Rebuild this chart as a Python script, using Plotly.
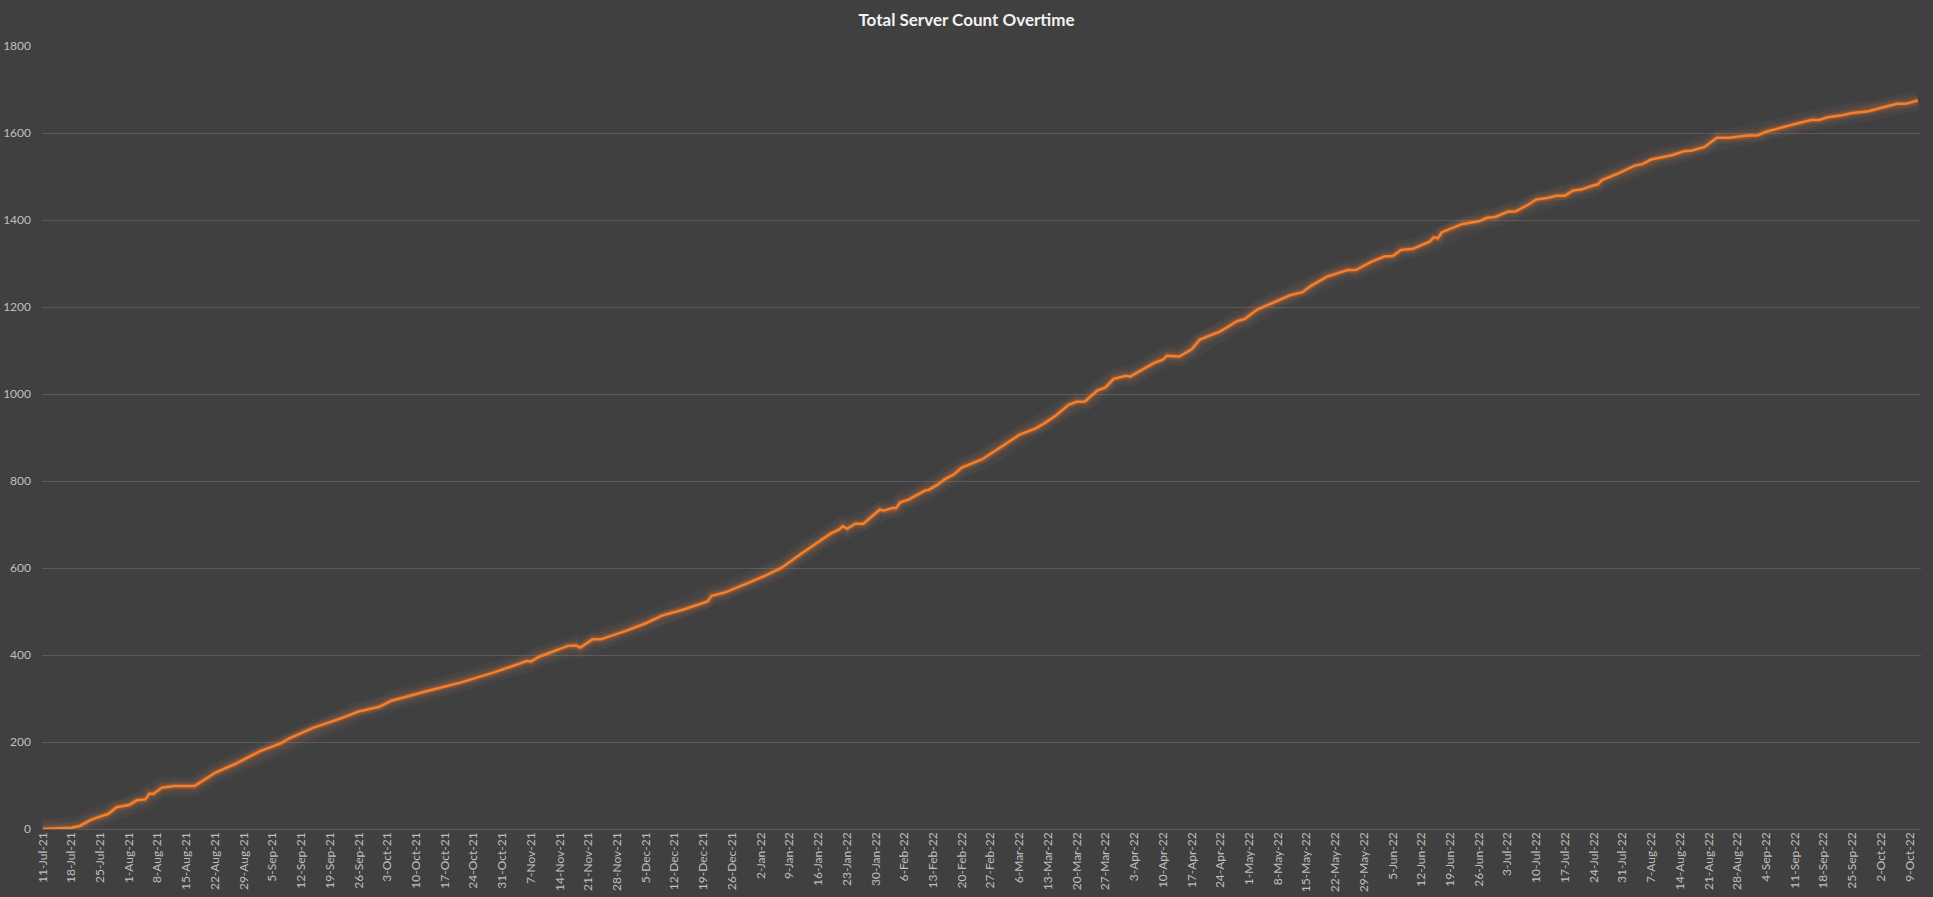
import plotly.graph_objects as go

# readings taken off the chart (date, total servers)
dates = [
    "2021-07-11", "2021-07-18", "2021-07-20", "2021-07-23", "2021-07-27", "2021-07-29",
    "2021-08-01", "2021-08-03", "2021-08-05", "2021-08-06", "2021-08-07", "2021-08-09",
    "2021-08-12", "2021-08-17", "2021-08-22", "2021-08-27", "2021-09-02", "2021-09-07",
    "2021-09-09", "2021-09-15", "2021-09-21", "2021-09-26", "2021-10-01", "2021-10-04",
    "2021-10-13", "2021-10-21", "2021-10-29", "2021-11-06", "2021-11-07", "2021-11-09",
    "2021-11-16", "2021-11-18", "2021-11-19", "2021-11-22", "2021-11-24", "2021-11-30",
    "2021-12-05", "2021-12-09", "2021-12-14", "2021-12-18", "2021-12-20", "2021-12-21",
    "2021-12-24", "2021-12-30", "2022-01-03", "2022-01-07", "2022-01-12", "2022-01-19",
    "2022-01-21", "2022-01-22", "2022-01-23", "2022-01-25", "2022-01-27", "2022-01-31",
    "2022-02-01", "2022-02-03", "2022-02-04", "2022-02-05", "2022-02-07", "2022-02-11",
    "2022-02-12", "2022-02-14", "2022-02-16", "2022-02-18", "2022-02-20", "2022-02-25",
    "2022-03-01", "2022-03-04", "2022-03-06", "2022-03-10", "2022-03-12", "2022-03-15",
    "2022-03-18", "2022-03-20", "2022-03-22", "2022-03-25", "2022-03-27", "2022-03-29",
    "2022-04-01", "2022-04-02", "2022-04-05", "2022-04-08", "2022-04-10", "2022-04-11",
    "2022-04-14", "2022-04-17", "2022-04-19", "2022-04-22", "2022-04-24", "2022-04-28",
    "2022-04-30", "2022-05-03", "2022-05-07", "2022-05-09", "2022-05-11", "2022-05-14",
    "2022-05-16", "2022-05-20", "2022-05-23", "2022-05-25", "2022-05-27", "2022-05-31",
    "2022-06-03", "2022-06-05", "2022-06-07", "2022-06-10", "2022-06-14", "2022-06-15",
    "2022-06-16", "2022-06-17", "2022-06-22", "2022-06-26", "2022-06-28", "2022-06-30",
    "2022-07-03", "2022-07-05", "2022-07-08", "2022-07-10", "2022-07-13", "2022-07-15",
    "2022-07-17", "2022-07-19", "2022-07-21", "2022-07-23", "2022-07-25", "2022-07-26",
    "2022-07-30", "2022-08-03", "2022-08-05", "2022-08-07", "2022-08-09", "2022-08-12",
    "2022-08-15", "2022-08-17", "2022-08-20", "2022-08-23", "2022-08-26", "2022-08-29",
    "2022-08-31", "2022-09-01", "2022-09-02", "2022-09-04", "2022-09-07", "2022-09-10",
    "2022-09-12", "2022-09-15", "2022-09-17", "2022-09-19", "2022-09-22", "2022-09-25",
    "2022-09-29", "2022-10-02", "2022-10-06", "2022-10-08", "2022-10-11",
]
servers = [
    0, 3, 7, 22, 35, 50,
    55, 66, 68, 81, 81, 95,
    99, 99, 129, 150, 179, 197,
    208, 233, 252, 270, 281, 295,
    318, 337, 360, 386, 385, 396,
    421, 422, 417, 436, 436, 455,
    473, 491, 504, 516, 523, 536,
    543, 566, 582, 600, 634, 679,
    688, 696, 690, 702, 702, 734,
    732, 738, 738, 751, 757, 778,
    780, 791, 805, 815, 831, 850,
    875, 893, 906, 921, 932, 951,
    975, 982, 983, 1008, 1015, 1035,
    1042, 1040, 1056, 1072, 1079, 1088,
    1086, 1103, 1125, 1137, 1144, 1167,
    1173, 1194, 1211, 1218, 1227, 1234,
    1248, 1270, 1280, 1285, 1285, 1305,
    1316, 1317, 1331, 1334, 1350, 1360,
    1358, 1372, 1391, 1397, 1405, 1407,
    1419, 1420, 1435, 1447, 1451, 1456,
    1456, 1468, 1470, 1477, 1482, 1492,
    1507, 1525, 1529, 1539, 1543, 1549,
    1558, 1560, 1568, 1589, 1589, 1592,
    1595, 1594, 1595, 1603, 1611, 1618,
    1623, 1630, 1630, 1636, 1640, 1646,
    1650, 1658, 1667, 1667, 1675,
]

ORANGE = "#F47F2C"
BG = "#404040"
GRID = "#5A5A5A"
LABEL = "#BFBFBF"

fig = go.Figure()

# soft glow under the line (orange fading to a faint mauve)
for w, a, c in [(20, 0.05, "#B08AA8"), (13, 0.08, ORANGE), (8, 0.12, ORANGE), (5, 0.2, ORANGE)]:
    fig.add_trace(go.Scatter(
        x=dates, y=servers, mode="lines",
        line=dict(color=c, width=w),
        opacity=a, hoverinfo="skip", showlegend=False,
    ))

fig.add_trace(go.Scatter(
    x=dates, y=servers, mode="lines",
    line=dict(color=ORANGE, width=2.5),
    name="Total Servers", showlegend=False,
))

fig.update_layout(
    width=1933, height=897,
    paper_bgcolor=BG, plot_bgcolor=BG,
    font=dict(family="Lato, Open Sans, sans-serif", size=12, color=LABEL),
    title=dict(
        text="<b>Total Server Count Overtime</b>",
        x=0.5, xanchor="center", y=0.978, yanchor="middle",
        font=dict(size=17, color="#F2F2F2"),
    ),
    margin=dict(l=42, r=12, t=46, b=68),
)

fig.update_xaxes(
    type="date", automargin=False,
    range=["2021-07-10 20:00", "2022-10-11 18:00"],
    tick0="2021-07-11", dtick=7 * 24 * 3600 * 1000,
    tickformat="%-d-%b-%y", tickangle=-90,
    showgrid=False, zeroline=False, showline=False,
    ticks="", tickfont=dict(size=12, color=LABEL),
)

fig.update_yaxes(
    automargin=False,
    range=[0, 1800], dtick=200,
    gridcolor=GRID, gridwidth=1,
    zeroline=True, zerolinecolor=GRID, zerolinewidth=1,
    showline=False, ticks="", ticklabelstandoff=10,
    tickfont=dict(size=12, color=LABEL),
)

# page body has a default margin; drop it so the chart fills the window
fig.write_html(
    "out.html",
    config={"displayModeBar": False},
    post_script="document.body.style.margin='0';document.body.style.background='#404040';",
)
